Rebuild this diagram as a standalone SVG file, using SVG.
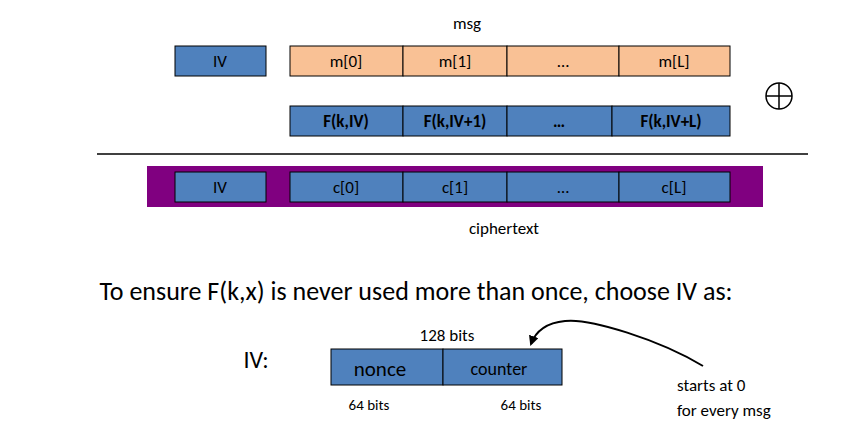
<svg xmlns="http://www.w3.org/2000/svg" width="851" height="438" viewBox="0 0 851 438">
<style>
text{font-family:Calibri,"Liberation Sans",sans-serif;fill:#000;text-anchor:middle}
.b{fill:#4f81bd;stroke:#000;stroke-width:1}
.o{fill:#f9c195;stroke:#000;stroke-width:1}
.c{font-size:17px}
.bold{font-size:17px;font-weight:bold}
</style>
<defs><marker id="ah" markerWidth="10" markerHeight="10" refX="8" refY="5" orient="auto" markerUnits="userSpaceOnUse"><path d="M0,0 L10,5 L0,10 Z" fill="#000"/></marker></defs>
<rect width="851" height="438" fill="#fff"/>
<text x="467" y="29" class="c">msg</text>
<g id="iv1"><rect class="b" x="175" y="46" width="91" height="30"/><text x="220" y="67" class="c">IV</text></g>
<g id="msg">
<rect class="o" x="290" y="46" width="113" height="30"/><text x="346" y="67" class="c">m[0]</text>
<rect class="o" x="403" y="46" width="104" height="30"/><text x="455" y="67" class="c">m[1]</text>
<rect class="o" x="507" y="46" width="112" height="30"/><text x="563" y="67" class="c">…</text>
<rect class="o" x="619" y="46" width="111" height="30"/><text x="674" y="67" class="c">m[L]</text>
</g>
<g id="xor"><circle cx="779" cy="96" r="13" fill="none" stroke="#000" stroke-width="1.5"/><path d="M766,96H792M779,83V109" stroke="#000" stroke-width="1.5"/></g>
<g id="prf">
<rect class="b" x="290" y="106" width="113" height="30"/><text x="346" y="127" class="bold">F(k,IV)</text>
<rect class="b" x="403" y="106" width="104" height="30"/><text x="455" y="127" class="bold">F(k,IV+1)</text>
<rect class="b" x="507" y="106" width="105" height="30"/><text x="559" y="127" class="bold">…</text>
<rect class="b" x="612" y="106" width="118" height="30"/><text x="671" y="127" class="bold">F(k,IV+L)</text>
</g>
<line x1="97" y1="154" x2="808" y2="154" stroke="#000" stroke-width="1.5"/>
<g id="ct">
<rect x="147" y="166" width="616" height="41" fill="#800080"/>
<rect class="b" x="175" y="172" width="91" height="30"/><text x="220" y="193" class="c">IV</text>
<rect class="b" x="290" y="172" width="113" height="30"/><text x="346" y="193" class="c">c[0]</text>
<rect class="b" x="403" y="172" width="104" height="30"/><text x="455" y="193" class="c">c[1]</text>
<rect class="b" x="507" y="172" width="112" height="30"/><text x="563" y="193" class="c">…</text>
<rect class="b" x="619" y="172" width="111" height="30"/><text x="674" y="193" class="c">c[L]</text>
</g>
<text x="504" y="234" class="c">ciphertext</text>
<text x="416" y="300" style="font-size:26px">To ensure  F(k,x)  is never used more than once, choose IV as:</text>
<text x="256" y="368" style="font-size:24px">IV:</text>
<text x="447" y="341" class="c">128 bits</text>
<g id="ivbox">
<rect class="b" x="331" y="349" width="112" height="36"/><text x="380" y="376" style="font-size:21px">nonce</text>
<rect class="b" x="443" y="349" width="119" height="36"/><text x="499" y="375" class="c" style="font-size:18px">counter</text>
</g>
<text x="369" y="410" style="font-size:15px">64 bits</text>
<text x="521" y="410" style="font-size:15px">64 bits</text>
<text x="677" y="391" class="c" style="text-anchor:start">starts at 0</text>
<text x="677" y="416" class="c" style="text-anchor:start">for every msg</text>
<g id="conn"><path d="M703,366 C660,340 590,318 565,321 C545,323 535,333 531,344" fill="none" stroke="#000" stroke-width="2" marker-end="url(#ah)"/></g>
</svg>
